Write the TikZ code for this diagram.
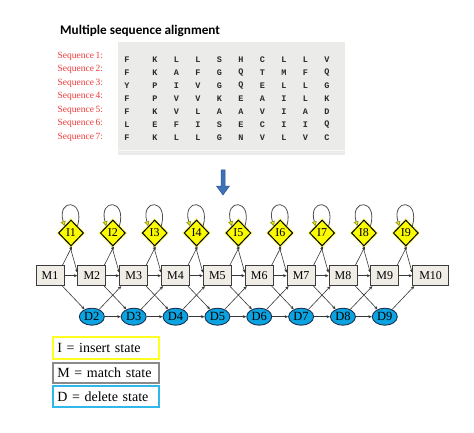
\documentclass[tikz,border=0pt]{standalone}
\usepackage{fontspec}
\setmainfont{Liberation Serif}
\newfontfamily\titlefont{Carlito}
\newfontfamily\seqmono{Liberation Mono}
\usetikzlibrary{shapes.geometric,arrows.meta,calc}
\definecolor{mfill}{HTML}{EFEDE6}
\definecolor{mborder}{HTML}{3C3C3C}
\definecolor{iyellow}{HTML}{FAFA00}
\definecolor{dfill}{HTML}{0BA3E0}
\definecolor{dborder}{HTML}{1A3050}
\definecolor{edgecol}{HTML}{383838}
\definecolor{loopcol}{HTML}{505050}
\definecolor{arrowolive}{HTML}{9A9A20}
\definecolor{seqred}{HTML}{EE3B3B}
\definecolor{seqgray}{HTML}{EBEBEA}
\definecolor{lettercol}{HTML}{2A2A2A}
\definecolor{bluearrow}{HTML}{3D72B8}
\definecolor{bluearrowdark}{HTML}{2A5690}
\definecolor{legyellow}{HTML}{FFFF20}
\definecolor{leggray}{HTML}{8A8A8A}
\definecolor{legcyan}{HTML}{30B8EA}
\begin{document}
\begin{tikzpicture}[x=1pt,y=1pt,
  mstate/.style={draw=mborder, fill=mfill, line width=0.9pt, minimum width=28pt,
    minimum height=20pt, inner sep=0pt, font=\fontsize{12}{12}\selectfont},
  istate/.style={diamond, draw=black, fill=iyellow, line width=1pt, minimum width=25pt,
    minimum height=26pt, inner sep=0pt, font=\fontsize{12}{12}\selectfont,
    preaction={draw=iyellow, line width=3pt, opacity=0.5}},
  dstate/.style={ellipse, draw=dborder, fill=dfill, line width=0.9pt, minimum width=25pt,
    minimum height=17pt, inner sep=0pt, font=\fontsize{12.5}{12.5}\selectfont},
  conn/.style={draw=edgecol, line width=0.6pt, -{Stealth[length=3.5pt,width=3pt]}},
  loopst/.style={draw=loopcol, line width=0.8pt,
    -{Triangle[length=5pt,width=5pt,color=arrowolive,fill=iyellow]}},
  seqlabel/.style={anchor=west, inner sep=0pt, text=seqred,
    font=\fontsize{9.5}{9.5}\selectfont},
  letter/.style={inner sep=0pt, text=lettercol, font=\seqmono\bfseries\fontsize{8.5}{8.5}\selectfont},
  legbox/.style={rectangle, line width=1.8pt, text width=98pt, inner xsep=4pt,
    inner ysep=0pt, align=left, font=\fontsize{14}{14}\selectfont}
]
\useasboundingbox (0,0) rectangle (474,-433);
\fill[white] (0,0) rectangle (474,-433);

% title
\node[anchor=west, inner sep=0pt, font=\titlefont\bfseries\fontsize{13.2}{13.2}\selectfont]
  (title) at (60,-30.7) {Multiple sequence alignment};

% alignment box
\fill[seqgray] (118,-42) rectangle (345,-155);
\draw[white!60!seqgray, line width=0.8pt] (118,-150.5) -- (345,-150.5);

\foreach \r in {1,...,7}
  \node[seqlabel] (lab\r) at (57.5,{-56-13.55*(\r-1)}) {Sequence\,\r:};

\foreach \row [count=\r] in {
  {F,K,L,L,S,H,C,L,L,V},
  {F,K,A,F,G,Q,T,M,F,Q},
  {Y,P,I,V,G,Q,E,L,L,G},
  {F,P,V,V,K,E,A,I,L,K},
  {F,K,V,L,A,A,V,I,A,D},
  {L,E,F,I,S,E,C,I,I,Q},
  {F,K,L,L,G,N,V,L,V,C}} {
  \foreach \ch [count=\c] in \row {
    \pgfmathsetmacro{\xx}{\c==1 ? 127 : 155+21.5*(\c-2)}
    \node[letter] (s\r-\c) at (\xx,{-59.3-13*(\r-1)}) {\ch};
  }
}

% blue arrow
\filldraw[fill=bluearrow, draw=bluearrowdark, line width=0.5pt]
  (221,-170) -- (225,-170) -- (225,-186) -- (229.5,-186) -- (223,-195)
  -- (216.5,-186) -- (221,-186) -- cycle;

% states
\foreach \k in {1,...,9}
  \node[mstate] (M\k) at ({50+41.85*(\k-1)},-275.7) {M\k};
\node[mstate, minimum width=36pt] (M10) at (430.65,-275.7) {M10};
\foreach \k in {1,...,9}
  \node[istate] (I\k) at ({71+41.85*(\k-1)},-233) {I\k};
\foreach \k in {2,...,9}
  \node[dstate] (D\k) at ({50+41.85*(\k-1)},-316.7) {D\k};

% transitions
\foreach \k [count=\n from 2] in {1,...,9} {
  \draw[conn] (M\k.east) -- (M\n.west);
  \draw[conn] ([xshift=-2pt]M\k.north east) -- ([xshift=1pt]I\k.south);
  \draw[conn] ([xshift=-1pt]I\k.south) -- ([yshift=3pt]M\n.west);
  \draw[loopst] (I\k.north east) .. controls +(8,28) and +(-8,28) .. (I\k.north west);
}
\foreach \k [count=\n from 2] in {1,...,8}
  \draw[conn] ([xshift=-2pt]M\k.south east) -- (D\n.135);
\foreach \k [count=\n from 3] in {2,...,8}
  \draw[conn] (D\k.east) -- (D\n.west);
\foreach \k [count=\n from 3] in {2,...,9}
  \draw[conn] (D\k.45) -- ([xshift=2pt]M\n.south west);

% legend
\node[legbox, draw=legyellow, minimum height=22.6pt] (legI) at (106.3,-348) {I = insert state};
\node[legbox, draw=leggray, minimum height=20.6pt] (legM) at (106.3,-373) {M = match state};
\node[legbox, draw=legcyan, minimum height=21.6pt] (legD) at (106.3,-396.5) {D = delete state};
\end{tikzpicture}
\end{document}
